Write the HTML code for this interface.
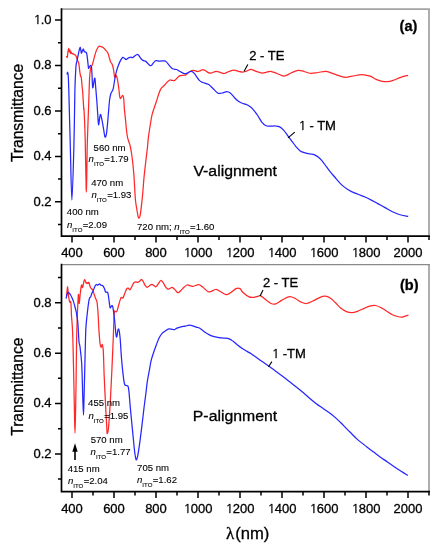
<!DOCTYPE html>
<html><head><meta charset="utf-8"><style>
html,body{margin:0;padding:0;background:#fff;width:438px;height:550px;overflow:hidden}
svg{display:block}
text{font-family:"Liberation Sans", Arial, sans-serif;fill:#000;stroke:#000;stroke-width:0.3px}
.tl{font-size:13px}
.at{font-size:15.6px}
.xt{font-size:16.6px}
.an{font-size:9.75px;stroke-width:0.1px}
.sb{font-size:6.2px}
.al{font-size:15.3px}
.lg{font-size:13px}
.pl{font-size:14.5px;font-weight:bold}
.o{font-family:NanumGothic,"Liberation Sans",sans-serif;letter-spacing:-0.05em}
</style></head><body>
<svg width="438" height="550" viewBox="0 0 438 550">
<path d="M429 9.1V236.2" fill="none" stroke="#a5a5a5" stroke-width="1.8"/>
<path d="M61.5 9.1H429.9" fill="none" stroke="#a3a3a3" stroke-width="1.8"/>
<path d="M61.5 8.2V236.2H429.9" fill="none" stroke="#000" stroke-width="1.7"/>
<path d="M72.0 236.2v6.4M114.0 236.2v6.4M156.0 236.2v6.4M198.0 236.2v6.4M240.0 236.2v6.4M282.0 236.2v6.4M324.0 236.2v6.4M366.0 236.2v6.4M408.0 236.2v6.4M93.0 236.2v3.8M135.0 236.2v3.8M177.0 236.2v3.8M219.0 236.2v3.8M261.0 236.2v3.8M303.0 236.2v3.8M345.0 236.2v3.8M387.0 236.2v3.8M429.0 236.2v3.8M61.5 201.8h-6.5M61.5 156.4h-6.5M61.5 110.9h-6.5M61.5 65.5h-6.5M61.5 20.1h-6.5M61.5 224.5h-3.5M61.5 179.1h-3.5M61.5 133.7h-3.5M61.5 88.2h-3.5M61.5 42.8h-3.5" fill="none" stroke="#000" stroke-width="1.5"/>
<text x="72.0" y="256.7" text-anchor="middle" class="tl">400</text>
<text x="114.0" y="256.7" text-anchor="middle" class="tl">600</text>
<text x="156.0" y="256.7" text-anchor="middle" class="tl">800</text>
<text x="198.0" y="256.7" text-anchor="middle" class="tl"><tspan class="o">1</tspan>000</text>
<text x="240.0" y="256.7" text-anchor="middle" class="tl"><tspan class="o">1</tspan>200</text>
<text x="282.0" y="256.7" text-anchor="middle" class="tl"><tspan class="o">1</tspan>400</text>
<text x="324.0" y="256.7" text-anchor="middle" class="tl"><tspan class="o">1</tspan>600</text>
<text x="366.0" y="256.7" text-anchor="middle" class="tl"><tspan class="o">1</tspan>800</text>
<text x="408.0" y="256.7" text-anchor="middle" class="tl">2000</text>
<text x="51.5" y="205.5" text-anchor="end" class="tl">0.2</text>
<text x="51.5" y="160.1" text-anchor="end" class="tl">0.4</text>
<text x="51.5" y="114.6" text-anchor="end" class="tl">0.6</text>
<text x="51.5" y="69.2" text-anchor="end" class="tl">0.8</text>
<text x="51.5" y="23.8" text-anchor="end" class="tl"><tspan class="o">1</tspan>.0</text>
<path d="M429 264.6V491.6" fill="none" stroke="#a5a5a5" stroke-width="1.8"/>
<path d="M61.5 264.6H429.9" fill="none" stroke="#8a8a8a" stroke-width="1.4"/>
<path d="M61.5 263.70000000000005V491.6H429.9" fill="none" stroke="#000" stroke-width="1.7"/>
<path d="M72.0 491.6v6.4M114.0 491.6v6.4M156.0 491.6v6.4M198.0 491.6v6.4M240.0 491.6v6.4M282.0 491.6v6.4M324.0 491.6v6.4M366.0 491.6v6.4M408.0 491.6v6.4M93.0 491.6v3.8M135.0 491.6v3.8M177.0 491.6v3.8M219.0 491.6v3.8M261.0 491.6v3.8M303.0 491.6v3.8M345.0 491.6v3.8M387.0 491.6v3.8M429.0 491.6v3.8M61.5 453.9h-6.5M61.5 403.5h-6.5M61.5 353.2h-6.5M61.5 302.8h-6.5M61.5 479.1h-3.5M61.5 428.7h-3.5M61.5 378.3h-3.5M61.5 328.0h-3.5M61.5 277.6h-3.5" fill="none" stroke="#000" stroke-width="1.5"/>
<text x="72.0" y="512.5" text-anchor="middle" class="tl">400</text>
<text x="114.0" y="512.5" text-anchor="middle" class="tl">600</text>
<text x="156.0" y="512.5" text-anchor="middle" class="tl">800</text>
<text x="198.0" y="512.5" text-anchor="middle" class="tl"><tspan class="o">1</tspan>000</text>
<text x="240.0" y="512.5" text-anchor="middle" class="tl"><tspan class="o">1</tspan>200</text>
<text x="282.0" y="512.5" text-anchor="middle" class="tl"><tspan class="o">1</tspan>400</text>
<text x="324.0" y="512.5" text-anchor="middle" class="tl"><tspan class="o">1</tspan>600</text>
<text x="366.0" y="512.5" text-anchor="middle" class="tl"><tspan class="o">1</tspan>800</text>
<text x="408.0" y="512.5" text-anchor="middle" class="tl">2000</text>
<text x="51.5" y="457.6" text-anchor="end" class="tl">0.2</text>
<text x="51.5" y="407.2" text-anchor="end" class="tl">0.4</text>
<text x="51.5" y="356.9" text-anchor="end" class="tl">0.6</text>
<text x="51.5" y="306.5" text-anchor="end" class="tl">0.8</text>
<text transform="translate(23.3 113.0) rotate(-90)" text-anchor="middle" class="at">Transmittance</text>
<text transform="translate(23.3 386.7) rotate(-90)" text-anchor="middle" class="at">Transmittance</text>
<text x="226.0" y="539.2" class="xt"><tspan font-family="Liberation Serif, serif" font-size="17px">&#955;</tspan><tspan dx="1.0">(nm)</tspan></text>
<path d="M66.40,56.00C66.53,56.23 66.95,58.03 67.20,57.40C67.45,56.77 67.67,53.72 67.90,52.20C68.13,50.68 68.38,48.37 68.60,48.30C68.82,48.23 68.98,51.55 69.20,51.80C69.42,52.05 69.67,49.53 69.90,49.80C70.13,50.07 70.37,53.03 70.60,53.40C70.83,53.77 71.05,51.92 71.30,52.00C71.55,52.08 71.82,53.63 72.10,53.90C72.38,54.17 72.60,53.45 73.00,53.60C73.40,53.75 74.08,54.53 74.50,54.80C74.92,55.07 75.17,54.78 75.50,55.20C75.83,55.62 76.15,56.42 76.50,57.30C76.85,58.18 77.22,59.45 77.60,60.50C77.98,61.55 78.45,61.87 78.80,63.60C79.15,65.33 79.40,68.77 79.70,70.90C80.00,73.03 80.33,75.33 80.60,76.40C80.87,77.47 81.07,75.78 81.30,77.30C81.53,78.82 81.77,83.05 82.00,85.50C82.23,87.95 82.42,88.15 82.70,92.00C82.98,95.85 83.48,105.68 83.70,108.60C83.92,111.52 83.78,105.55 84.00,109.50C84.22,113.45 84.73,123.88 85.00,132.30C85.27,140.72 85.42,151.22 85.60,160.00C85.78,168.78 85.98,179.67 86.10,185.00C86.22,190.33 86.22,192.00 86.30,192.00C86.38,192.00 86.48,190.33 86.60,185.00C86.72,179.67 86.87,167.50 87.00,160.00C87.13,152.50 87.12,149.38 87.40,140.00C87.68,130.62 88.33,114.03 88.70,103.70C89.07,93.37 89.28,83.88 89.60,78.00C89.92,72.12 90.18,70.52 90.60,68.40C91.02,66.28 91.62,66.62 92.10,65.30C92.58,63.98 93.03,62.20 93.50,60.50C93.97,58.80 94.45,56.68 94.90,55.10C95.35,53.52 95.63,52.38 96.20,51.00C96.77,49.62 97.58,47.58 98.30,46.80C99.02,46.02 99.70,46.17 100.50,46.30C101.30,46.43 102.22,46.93 103.10,47.60C103.98,48.27 105.00,49.40 105.80,50.30C106.60,51.20 107.32,51.75 107.90,53.00C108.48,54.25 108.85,56.32 109.30,57.80C109.75,59.28 110.15,60.87 110.60,61.90C111.05,62.93 111.53,62.85 112.00,64.00C112.47,65.15 112.97,66.63 113.40,68.80C113.83,70.97 114.27,75.77 114.60,77.00C114.93,78.23 115.12,76.43 115.40,76.20C115.68,75.97 115.95,75.03 116.30,75.60C116.65,76.17 117.12,77.70 117.50,79.60C117.88,81.50 118.23,84.20 118.60,87.00C118.97,89.80 119.35,94.48 119.70,96.40C120.05,98.32 120.22,98.67 120.70,98.50C121.18,98.33 122.10,95.40 122.60,95.40C123.10,95.40 123.40,96.22 123.70,98.50C124.00,100.78 124.10,105.58 124.40,109.10C124.70,112.62 125.15,116.08 125.50,119.60C125.85,123.12 126.15,127.20 126.50,130.20C126.85,133.20 127.15,135.48 127.60,137.60C128.05,139.72 128.77,141.50 129.20,142.90C129.63,144.30 129.73,143.73 130.20,146.00C130.67,148.27 131.42,152.10 132.00,156.50C132.58,160.90 133.25,167.12 133.70,172.40C134.15,177.68 134.40,183.52 134.70,188.20C135.00,192.88 135.10,196.70 135.50,200.50C135.90,204.30 136.63,208.20 137.10,211.00C137.57,213.80 137.95,216.17 138.30,217.30C138.65,218.43 138.88,218.15 139.20,217.80C139.52,217.45 139.77,217.73 140.20,215.20C140.63,212.67 141.33,206.80 141.80,202.60C142.27,198.40 142.63,194.17 143.00,190.00C143.37,185.83 143.52,182.52 144.00,177.60C144.48,172.68 145.33,165.43 145.90,160.50C146.47,155.57 147.00,151.73 147.40,148.00C147.80,144.27 147.87,141.68 148.30,138.10C148.73,134.52 149.35,130.48 150.00,126.50C150.65,122.52 151.23,118.07 152.20,114.20C153.17,110.33 154.67,106.80 155.80,103.30C156.93,99.80 158.08,95.72 159.00,93.20C159.92,90.68 160.40,89.53 161.30,88.20C162.20,86.87 163.43,86.20 164.40,85.20C165.37,84.20 166.18,83.07 167.10,82.20C168.02,81.33 169.10,80.30 169.90,80.00C170.70,79.70 171.10,80.33 171.90,80.40C172.70,80.47 173.78,80.85 174.70,80.40C175.62,79.95 176.50,78.50 177.40,77.70C178.30,76.90 179.07,76.00 180.10,75.60C181.13,75.20 182.63,75.42 183.60,75.30C184.57,75.18 185.10,75.35 185.90,74.90C186.70,74.45 187.53,73.28 188.40,72.60C189.27,71.92 190.20,71.17 191.10,70.80C192.00,70.43 192.77,70.28 193.80,70.40C194.83,70.52 196.27,71.43 197.30,71.50C198.33,71.57 199.10,71.13 200.00,70.80C200.90,70.47 201.78,69.50 202.70,69.50C203.62,69.50 204.58,70.28 205.50,70.80C206.42,71.32 207.25,72.22 208.20,72.60C209.15,72.98 209.90,73.32 211.20,73.10C212.50,72.88 214.52,71.42 216.00,71.30C217.48,71.18 218.73,72.03 220.10,72.40C221.47,72.77 222.72,73.65 224.20,73.50C225.68,73.35 227.40,72.07 229.00,71.50C230.60,70.93 232.20,70.13 233.80,70.10C235.40,70.07 237.17,70.95 238.60,71.30C240.03,71.65 241.15,72.20 242.40,72.20C243.65,72.20 244.67,71.77 246.10,71.30C247.53,70.83 249.40,69.42 251.00,69.40C252.60,69.38 253.87,70.58 255.70,71.20C257.53,71.82 260.28,72.92 262.00,73.10C263.72,73.28 264.57,72.60 266.00,72.30C267.43,72.00 268.77,71.10 270.60,71.30C272.43,71.50 274.77,72.70 277.00,73.50C279.23,74.30 281.67,76.18 284.00,76.10C286.33,76.02 288.62,73.97 291.00,73.00C293.38,72.03 296.13,70.55 298.30,70.30C300.47,70.05 301.95,71.00 304.00,71.50C306.05,72.00 308.27,73.13 310.60,73.30C312.93,73.47 315.40,72.82 318.00,72.50C320.60,72.18 323.47,71.12 326.20,71.40C328.93,71.68 331.32,73.23 334.40,74.20C337.48,75.17 341.73,76.87 344.70,77.20C347.67,77.53 349.35,76.65 352.20,76.20C355.05,75.75 358.82,74.50 361.80,74.50C364.78,74.50 367.60,75.33 370.10,76.20C372.60,77.07 374.77,78.85 376.80,79.70C378.83,80.55 380.58,80.97 382.30,81.30C384.02,81.63 385.27,81.87 387.10,81.70C388.93,81.53 391.13,80.98 393.30,80.30C395.47,79.62 397.63,78.43 400.10,77.60C402.57,76.77 406.77,75.68 408.10,75.30" fill="none" stroke="#ff2828" stroke-width="1.25" stroke-linejoin="round"/>
<path d="M67.00,74.50C67.10,74.13 67.40,72.13 67.60,72.30C67.80,72.47 68.00,72.55 68.20,75.50C68.40,78.45 68.45,78.25 68.80,90.00C69.15,101.75 69.78,127.67 70.30,146.00C70.82,164.33 71.30,200.00 71.90,200.00C72.50,200.00 73.40,164.33 73.90,146.00C74.40,127.67 74.57,103.12 74.90,90.00C75.23,76.88 75.58,72.05 75.90,67.30C76.22,62.55 76.42,63.55 76.80,61.50C77.18,59.45 77.82,56.82 78.20,55.00C78.58,53.18 78.83,51.72 79.10,50.60C79.37,49.48 79.60,48.82 79.80,48.30C80.00,47.78 80.08,46.92 80.30,47.50C80.52,48.08 80.90,50.85 81.10,51.80C81.30,52.75 81.27,53.42 81.50,53.20C81.73,52.98 82.18,51.18 82.50,50.50C82.82,49.82 83.10,48.88 83.40,49.10C83.70,49.32 84.00,51.35 84.30,51.80C84.60,52.25 84.90,51.72 85.20,51.80C85.50,51.88 85.85,52.00 86.10,52.30C86.35,52.60 86.47,52.47 86.70,53.60C86.93,54.73 87.22,56.82 87.50,59.10C87.78,61.38 88.18,65.78 88.40,67.30C88.62,68.82 88.58,68.33 88.80,68.20C89.02,68.07 89.40,66.95 89.70,66.50C90.00,66.05 90.30,65.42 90.60,65.50C90.90,65.58 91.27,65.48 91.50,67.00C91.73,68.52 91.80,71.15 92.00,74.60C92.20,78.05 92.38,86.50 92.70,87.70C93.02,88.90 93.53,83.38 93.90,81.80C94.27,80.22 94.62,77.47 94.90,78.20C95.18,78.93 95.28,82.43 95.60,86.20C95.92,89.97 96.43,95.95 96.80,100.80C97.17,105.65 97.50,111.30 97.80,115.30C98.10,119.30 98.28,124.43 98.60,124.80C98.92,125.17 99.35,119.20 99.70,117.50C100.05,115.80 100.28,114.00 100.70,114.60C101.12,115.20 101.70,118.55 102.20,121.10C102.70,123.65 103.22,127.23 103.70,129.90C104.18,132.57 104.62,136.62 105.10,137.10C105.58,137.58 106.12,135.95 106.60,132.80C107.08,129.65 107.52,123.53 108.00,118.20C108.48,112.87 109.02,104.92 109.50,100.80C109.98,96.68 110.30,95.45 110.90,93.50C111.50,91.55 112.43,91.60 113.10,89.10C113.77,86.60 114.33,81.50 114.90,78.50C115.47,75.50 115.88,73.38 116.50,71.10C117.12,68.82 117.90,66.63 118.60,64.80C119.30,62.97 120.00,61.33 120.70,60.10C121.40,58.87 122.18,57.70 122.80,57.40C123.42,57.10 123.87,57.95 124.40,58.30C124.93,58.65 125.47,59.47 126.00,59.50C126.53,59.53 127.07,58.82 127.60,58.50C128.13,58.18 128.68,57.82 129.20,57.60C129.72,57.38 130.10,57.20 130.70,57.20C131.30,57.20 132.08,57.83 132.80,57.60C133.52,57.37 134.28,56.32 135.00,55.80C135.72,55.28 136.50,54.58 137.10,54.50C137.70,54.42 138.08,54.78 138.60,55.30C139.12,55.82 139.67,56.90 140.20,57.60C140.73,58.30 141.27,59.00 141.80,59.50C142.33,60.00 142.78,60.33 143.40,60.60C144.02,60.87 144.80,60.67 145.50,61.10C146.20,61.53 146.98,62.58 147.60,63.20C148.22,63.82 148.67,64.38 149.20,64.80C149.73,65.22 150.32,65.72 150.80,65.70C151.28,65.68 151.32,65.52 152.10,64.70C152.88,63.88 154.25,61.38 155.50,60.80C156.75,60.22 158.12,61.20 159.60,61.20C161.08,61.20 163.27,60.68 164.40,60.80C165.53,60.92 165.60,61.15 166.40,61.90C167.20,62.65 168.17,64.15 169.20,65.30C170.23,66.45 171.35,68.10 172.60,68.80C173.85,69.50 175.45,69.05 176.70,69.50C177.95,69.95 178.85,70.82 180.10,71.50C181.35,72.18 183.05,73.32 184.20,73.60C185.35,73.88 185.97,73.55 187.00,73.20C188.03,72.85 189.37,71.67 190.40,71.50C191.43,71.33 192.28,71.52 193.20,72.20C194.12,72.88 194.88,74.23 195.90,75.60C196.92,76.97 198.17,79.25 199.30,80.40C200.43,81.55 201.55,81.97 202.70,82.50C203.85,83.03 205.13,83.23 206.20,83.60C207.27,83.97 207.93,83.83 209.10,84.70C210.27,85.57 211.72,87.38 213.20,88.80C214.68,90.22 216.52,92.50 218.00,93.20C219.48,93.90 220.62,93.27 222.10,93.00C223.58,92.73 225.53,91.60 226.90,91.60C228.27,91.60 229.03,91.98 230.30,93.00C231.57,94.02 233.02,96.23 234.50,97.70C235.98,99.17 237.72,100.82 239.20,101.80C240.68,102.78 242.02,103.07 243.40,103.60C244.78,104.13 246.25,104.38 247.50,105.00C248.75,105.62 249.77,106.33 250.90,107.30C252.03,108.27 253.17,109.43 254.30,110.80C255.43,112.17 256.45,113.62 257.70,115.50C258.95,117.38 260.42,120.38 261.80,122.10C263.18,123.82 264.62,125.12 266.00,125.80C267.38,126.48 268.52,126.17 270.10,126.20C271.68,126.23 273.90,125.88 275.50,126.00C277.10,126.12 278.32,126.18 279.70,126.90C281.08,127.62 282.43,128.82 283.80,130.30C285.17,131.78 286.53,133.97 287.90,135.80C289.27,137.63 290.63,139.47 292.00,141.30C293.37,143.13 294.73,145.20 296.10,146.80C297.47,148.40 298.72,149.88 300.20,150.90C301.68,151.92 303.40,152.38 305.00,152.90C306.60,153.42 308.28,153.72 309.80,154.00C311.32,154.28 312.70,154.08 314.10,154.60C315.50,155.12 316.83,156.00 318.20,157.10C319.57,158.20 320.93,159.60 322.30,161.20C323.67,162.80 325.03,164.87 326.40,166.70C327.77,168.53 329.12,170.48 330.50,172.20C331.88,173.92 333.32,175.40 334.70,177.00C336.08,178.60 337.43,180.32 338.80,181.80C340.17,183.28 341.53,184.70 342.90,185.90C344.27,187.10 345.63,188.08 347.00,189.00C348.37,189.92 349.50,190.62 351.10,191.40C352.70,192.18 354.77,192.95 356.60,193.70C358.43,194.45 360.70,195.35 362.10,195.90C363.50,196.45 363.38,196.25 365.00,197.00C366.62,197.75 369.52,199.22 371.80,200.40C374.08,201.58 376.42,202.85 378.70,204.10C380.98,205.35 383.22,206.62 385.50,207.90C387.78,209.18 390.12,210.70 392.40,211.80C394.68,212.90 396.57,213.73 399.20,214.50C401.83,215.27 406.70,216.08 408.20,216.40" fill="none" stroke="#2626ff" stroke-width="1.25" stroke-linejoin="round"/>
<path d="M66.50,295.90C66.58,295.15 66.83,292.92 67.00,291.40C67.17,289.88 67.35,287.12 67.50,286.80C67.65,286.48 67.73,287.98 67.90,289.50C68.07,291.02 68.27,294.07 68.50,295.90C68.73,297.73 69.05,299.43 69.30,300.50C69.55,301.57 69.78,302.15 70.00,302.30C70.22,302.45 70.42,300.80 70.60,301.40C70.78,302.00 70.95,303.48 71.10,305.90C71.25,308.32 71.32,312.72 71.50,315.90C71.68,319.08 71.97,320.98 72.20,325.00C72.43,329.02 72.63,330.83 72.90,340.00C73.17,349.17 73.53,367.50 73.80,380.00C74.07,392.50 74.30,406.17 74.50,415.00C74.70,423.83 74.83,433.00 75.00,433.00C75.17,433.00 75.32,423.83 75.50,415.00C75.68,406.17 75.92,392.50 76.10,380.00C76.28,367.50 76.45,349.17 76.60,340.00C76.75,330.83 76.85,329.77 77.00,325.00C77.15,320.23 77.35,315.18 77.50,311.40C77.65,307.62 77.75,305.12 77.90,302.30C78.05,299.48 78.25,295.12 78.40,294.50C78.55,293.88 78.65,297.15 78.80,298.60C78.95,300.05 79.07,303.95 79.30,303.20C79.53,302.45 79.90,296.83 80.20,294.10C80.50,291.37 80.83,288.32 81.10,286.80C81.37,285.28 81.57,284.85 81.80,285.00C82.03,285.15 82.23,287.85 82.50,287.70C82.77,287.55 83.10,285.38 83.40,284.10C83.70,282.82 84.00,280.60 84.30,280.00C84.60,279.40 84.90,279.97 85.20,280.50C85.50,281.03 85.80,282.83 86.10,283.20C86.40,283.57 86.70,282.63 87.00,282.70C87.30,282.77 87.60,283.67 87.90,283.60C88.20,283.53 88.50,282.07 88.80,282.30C89.10,282.53 89.38,284.05 89.70,285.00C90.02,285.95 90.18,287.17 90.70,288.00C91.22,288.83 92.23,288.98 92.80,290.00C93.37,291.02 93.65,292.73 94.10,294.10C94.55,295.47 95.03,296.95 95.50,298.20C95.97,299.45 96.57,300.23 96.90,301.60C97.23,302.97 97.28,304.02 97.50,306.40C97.72,308.78 97.97,312.03 98.20,315.90C98.43,319.77 98.60,325.05 98.90,329.60C99.20,334.15 99.65,340.25 100.00,343.20C100.35,346.15 100.73,346.85 101.00,347.30C101.27,347.75 101.38,346.35 101.60,345.90C101.82,345.45 102.02,343.77 102.30,344.60C102.58,345.43 102.98,345.60 103.30,350.90C103.62,356.20 103.83,367.62 104.20,376.40C104.57,385.18 105.05,394.67 105.50,403.60C105.95,412.53 106.60,425.03 106.90,430.00C107.20,434.97 107.05,433.57 107.30,433.40C107.55,433.23 107.92,433.97 108.40,429.00C108.88,424.03 109.60,413.88 110.20,403.60C110.80,393.32 111.50,377.97 112.00,367.30C112.50,356.63 112.83,348.62 113.20,339.60C113.57,330.58 113.85,317.83 114.20,313.20C114.55,308.57 114.85,312.13 115.30,311.80C115.75,311.47 116.33,312.33 116.90,311.20C117.47,310.07 118.07,307.17 118.70,305.00C119.33,302.83 120.22,299.48 120.70,298.20C121.18,296.92 121.22,297.33 121.60,297.30C121.98,297.27 122.47,298.68 123.00,298.00C123.53,297.32 124.17,294.75 124.80,293.20C125.43,291.65 126.23,289.53 126.80,288.70C127.37,287.87 127.68,288.02 128.20,288.20C128.72,288.38 129.33,289.98 129.90,289.80C130.47,289.62 130.97,288.23 131.60,287.10C132.23,285.97 133.00,283.87 133.70,283.00C134.40,282.13 135.12,282.02 135.80,281.90C136.48,281.78 137.12,282.47 137.80,282.30C138.48,282.13 139.27,281.37 139.90,280.90C140.53,280.43 141.03,279.38 141.60,279.50C142.17,279.62 142.68,280.57 143.30,281.60C143.92,282.63 144.62,284.75 145.30,285.70C145.98,286.65 146.70,287.30 147.40,287.30C148.10,287.30 148.77,286.20 149.50,285.70C150.23,285.20 151.02,284.30 151.80,284.30C152.58,284.30 153.52,285.28 154.20,285.70C154.88,286.12 155.20,287.15 155.90,286.80C156.60,286.45 157.58,284.65 158.40,283.60C159.22,282.55 160.00,280.65 160.80,280.50C161.60,280.35 162.47,281.72 163.20,282.70C163.93,283.68 164.45,285.33 165.20,286.40C165.95,287.47 166.90,288.77 167.70,289.10C168.50,289.43 169.27,288.70 170.00,288.40C170.73,288.10 171.35,287.18 172.10,287.30C172.85,287.42 173.72,288.33 174.50,289.10C175.28,289.87 176.10,291.33 176.80,291.90C177.50,292.47 177.80,292.97 178.70,292.50C179.60,292.03 180.82,290.35 182.20,289.10C183.58,287.85 185.30,285.45 187.00,285.00C188.70,284.55 190.47,286.47 192.40,286.40C194.33,286.33 196.88,284.48 198.60,284.60C200.32,284.72 200.98,285.88 202.70,287.10C204.42,288.32 206.73,291.50 208.90,291.90C211.07,292.30 213.88,289.62 215.70,289.50C217.52,289.38 218.08,290.35 219.80,291.20C221.52,292.05 224.17,294.38 226.00,294.60C227.83,294.82 229.13,293.50 230.80,292.50C232.47,291.50 234.47,289.25 236.00,288.60C237.53,287.95 238.83,287.95 240.00,288.60C241.17,289.25 241.48,291.12 243.00,292.50C244.52,293.88 247.28,296.10 249.10,296.90C250.92,297.70 252.30,297.42 253.90,297.30C255.50,297.18 257.60,296.48 258.70,296.20C259.80,295.92 259.37,295.05 260.50,295.60C261.63,296.15 263.75,298.18 265.50,299.50C267.25,300.82 269.28,302.77 271.00,303.50C272.72,304.23 273.98,304.47 275.80,303.90C277.62,303.33 279.62,301.32 281.90,300.10C284.18,298.88 287.22,296.83 289.50,296.60C291.78,296.37 293.67,297.78 295.60,298.70C297.53,299.62 299.27,301.30 301.10,302.10C302.93,302.90 304.55,303.72 306.60,303.50C308.65,303.28 311.17,301.83 313.40,300.80C315.63,299.77 318.02,298.07 320.00,297.30C321.98,296.53 323.62,296.08 325.30,296.20C326.98,296.32 328.40,296.90 330.10,298.00C331.80,299.10 333.68,301.08 335.50,302.80C337.32,304.52 339.17,306.82 341.00,308.30C342.83,309.78 344.67,310.97 346.50,311.70C348.33,312.43 350.17,312.77 352.00,312.70C353.83,312.63 355.45,312.03 357.50,311.30C359.55,310.57 362.25,309.15 364.30,308.30C366.35,307.45 367.93,306.67 369.80,306.20C371.67,305.73 373.63,305.27 375.50,305.50C377.37,305.73 379.18,306.68 381.00,307.60C382.82,308.52 384.58,309.85 386.40,311.00C388.22,312.15 390.07,313.58 391.90,314.50C393.73,315.42 395.80,316.05 397.40,316.50C399.00,316.95 400.25,317.25 401.50,317.20C402.75,317.15 403.75,316.55 404.90,316.20C406.05,315.85 407.82,315.28 408.40,315.10" fill="none" stroke="#ff2828" stroke-width="1.25" stroke-linejoin="round"/>
<path d="M66.10,298.60C66.25,297.92 66.70,295.55 67.00,294.50C67.30,293.45 67.52,292.52 67.90,292.30C68.28,292.08 68.85,292.75 69.30,293.20C69.75,293.65 70.15,294.25 70.60,295.00C71.05,295.75 71.53,296.63 72.00,297.70C72.47,298.77 72.95,300.03 73.40,301.40C73.85,302.77 74.25,304.23 74.70,305.90C75.15,307.57 75.72,309.58 76.10,311.40C76.48,313.22 76.70,314.83 77.00,316.80C77.30,318.77 77.57,319.03 77.90,323.20C78.23,327.37 78.67,337.97 79.00,341.80C79.33,345.63 79.45,342.55 79.90,346.20C80.35,349.85 81.23,355.57 81.70,363.70C82.17,371.83 82.40,386.45 82.70,395.00C83.00,403.55 83.27,415.00 83.50,415.00C83.73,415.00 83.87,403.55 84.10,395.00C84.33,386.45 84.65,373.70 84.90,363.70C85.15,353.70 85.40,341.45 85.60,335.00C85.80,328.55 85.78,328.93 86.10,325.00C86.42,321.07 87.05,315.33 87.50,311.40C87.95,307.47 88.43,303.68 88.80,301.40C89.17,299.12 89.38,298.47 89.70,297.70C90.02,296.93 90.30,297.63 90.70,296.80C91.10,295.97 91.63,293.83 92.10,292.70C92.57,291.57 93.05,291.02 93.50,290.00C93.95,288.98 94.35,287.52 94.80,286.60C95.25,285.68 95.70,284.73 96.20,284.50C96.70,284.27 97.23,285.30 97.80,285.20C98.37,285.10 99.07,283.90 99.60,283.90C100.13,283.90 100.43,284.87 101.00,285.20C101.57,285.53 102.43,285.33 103.00,285.90C103.57,286.47 103.95,287.57 104.40,288.60C104.85,289.63 105.13,291.42 105.70,292.10C106.27,292.78 107.23,291.23 107.80,292.70C108.37,294.17 108.72,298.40 109.10,300.90C109.48,303.40 109.75,306.78 110.10,307.70C110.45,308.62 110.83,306.73 111.20,306.40C111.57,306.07 111.97,305.25 112.30,305.70C112.63,306.15 112.82,306.72 113.20,309.10C113.58,311.48 114.13,315.68 114.60,320.00C115.07,324.32 115.62,332.27 116.00,335.00C116.38,337.73 116.57,337.30 116.90,336.40C117.23,335.50 117.63,330.62 118.00,329.60C118.37,328.58 118.75,328.93 119.10,330.30C119.45,331.67 119.70,333.15 120.10,337.80C120.50,342.45 120.97,351.77 121.50,358.20C122.03,364.63 122.77,372.02 123.30,376.40C123.83,380.78 124.17,382.98 124.70,384.50C125.23,386.02 125.92,385.12 126.50,385.50C127.08,385.88 127.77,385.53 128.20,386.80C128.63,388.07 128.77,389.87 129.10,393.10C129.43,396.33 129.78,401.55 130.20,406.20C130.62,410.85 131.10,415.80 131.60,421.00C132.10,426.20 132.72,432.48 133.20,437.40C133.68,442.32 134.08,447.00 134.50,450.50C134.92,454.00 135.35,456.88 135.70,458.40C136.05,459.92 136.25,460.10 136.60,459.60C136.95,459.10 137.27,458.28 137.80,455.40C138.33,452.52 139.12,447.22 139.80,442.30C140.48,437.38 141.20,431.63 141.90,425.90C142.60,420.17 143.32,413.50 144.00,407.90C144.68,402.30 145.45,396.68 146.00,392.30C146.55,387.92 146.75,385.20 147.30,381.60C147.85,378.00 148.68,374.12 149.30,370.70C149.92,367.28 150.27,364.18 151.00,361.10C151.73,358.02 152.80,354.93 153.70,352.20C154.60,349.47 155.48,347.10 156.40,344.70C157.32,342.30 158.28,339.63 159.20,337.80C160.12,335.97 160.88,334.83 161.90,333.70C162.92,332.57 164.15,331.80 165.30,331.00C166.45,330.20 167.65,329.18 168.80,328.90C169.95,328.62 171.30,329.18 172.20,329.30C173.10,329.42 173.40,329.78 174.20,329.60C175.00,329.42 175.85,328.67 177.00,328.20C178.15,327.73 179.73,327.13 181.10,326.80C182.47,326.47 183.83,326.47 185.20,326.20C186.57,325.93 188.05,325.27 189.30,325.20C190.55,325.13 191.55,325.48 192.70,325.80C193.85,326.12 195.02,326.68 196.20,327.10C197.38,327.52 198.40,327.50 199.80,328.30C201.20,329.10 203.00,330.80 204.60,331.90C206.20,333.00 207.80,334.10 209.40,334.90C211.00,335.70 212.60,336.23 214.20,336.70C215.80,337.17 217.40,337.47 219.00,337.70C220.60,337.93 222.10,337.92 223.80,338.10C225.50,338.28 227.60,338.23 229.20,338.80C230.80,339.37 232.02,340.48 233.40,341.50C234.78,342.52 236.02,343.75 237.50,344.90C238.98,346.05 240.70,347.32 242.30,348.40C243.90,349.48 245.62,350.50 247.10,351.40C248.58,352.30 249.58,352.73 251.20,353.80C252.82,354.87 254.72,356.33 256.80,357.80C258.88,359.27 261.63,361.15 263.70,362.60C265.77,364.05 267.15,365.03 269.20,366.50C271.25,367.97 273.72,369.73 276.00,371.40C278.28,373.07 280.62,374.77 282.90,376.50C285.18,378.23 287.42,380.00 289.70,381.80C291.98,383.60 294.32,385.48 296.60,387.30C298.88,389.12 301.08,390.75 303.40,392.70C305.72,394.65 308.40,397.20 310.50,399.00C312.60,400.80 313.95,401.95 316.00,403.50C318.05,405.05 320.52,406.70 322.80,408.30C325.08,409.90 327.42,411.38 329.70,413.10C331.98,414.82 334.22,416.55 336.50,418.60C338.78,420.65 341.12,423.12 343.40,425.40C345.68,427.68 347.92,430.02 350.20,432.30C352.48,434.58 354.33,436.67 357.10,439.10C359.87,441.53 364.03,444.73 366.80,446.90C369.57,449.07 371.42,450.38 373.70,452.10C375.98,453.82 378.22,455.55 380.50,457.20C382.78,458.85 385.12,460.40 387.40,462.00C389.68,463.60 391.92,465.25 394.20,466.80C396.48,468.35 398.82,469.87 401.10,471.30C403.38,472.73 406.77,474.72 407.90,475.40" fill="none" stroke="#2626ff" stroke-width="1.25" stroke-linejoin="round"/>
<text transform="translate(93.6 151.2) scale(0.985 1)" class="an">560 nm</text>
<text transform="translate(88.6 162.4) scale(0.985 1)" class="an"><tspan font-style="italic">n</tspan><tspan class="sb" dy="4.0">ITO</tspan><tspan dy="-4.0" dx="0.4">=1.79</tspan></text>
<text transform="translate(91.2 186.1) scale(0.985 1)" class="an">470 nm</text>
<text transform="translate(91.4 198.4) scale(0.985 1)" class="an"><tspan font-style="italic">n</tspan><tspan class="sb" dy="4.0">ITO</tspan><tspan dy="-4.0" dx="0.4">=1.93</tspan></text>
<text transform="translate(66.8 215.2) scale(0.985 1)" class="an">400 nm</text>
<text transform="translate(67.0 227.5) scale(0.985 1)" class="an"><tspan font-style="italic">n</tspan><tspan class="sb" dy="4.0">ITO</tspan><tspan dy="-4.0" dx="0.4">=2.09</tspan></text>
<text transform="translate(137.0 230) scale(0.985 1)" class="an">720 nm; <tspan font-style="italic">n</tspan><tspan class="sb" dy="4.0">ITO</tspan><tspan dy="-4.0" dx="0.4">=1.60</tspan></text>
<text transform="translate(193.4 176.2) scale(1.035 1)" class="al">V-alignment</text>
<text x="249.2" y="60.2" class="lg">2 - TE</text>
<text x="298.6" y="129.7" class="lg"><tspan class="o">1</tspan> - TM</text>
<path d="M244 71.5L247.8 64.6M288 137.8L294.8 132.1" stroke="#000" stroke-width="1.1" fill="none"/>
<text x="399.6" y="31.0" class="pl">(a)</text>
<text transform="translate(88.1 406.2) scale(0.985 1)" class="an">455 nm</text>
<text transform="translate(88.4 418.7) scale(0.985 1)" class="an"><tspan font-style="italic">n</tspan><tspan class="sb" dy="4.0">ITO</tspan><tspan dy="-4.0" dx="0.4">=1.95</tspan></text>
<text transform="translate(90.7 443.1) scale(0.985 1)" class="an">570 nm</text>
<text transform="translate(90.6 454.7) scale(0.985 1)" class="an"><tspan font-style="italic">n</tspan><tspan class="sb" dy="4.0">ITO</tspan><tspan dy="-4.0" dx="0.4">=1.77</tspan></text>
<text transform="translate(67.7 472) scale(0.985 1)" class="an">415 nm</text>
<text transform="translate(67.9 483.9) scale(0.985 1)" class="an"><tspan font-style="italic">n</tspan><tspan class="sb" dy="4.0">ITO</tspan><tspan dy="-4.0" dx="0.4">=2.04</tspan></text>
<text transform="translate(137.1 471) scale(0.985 1)" class="an">705 nm</text>
<text transform="translate(137.0 483) scale(0.985 1)" class="an"><tspan font-style="italic">n</tspan><tspan class="sb" dy="4.0">ITO</tspan><tspan dy="-4.0" dx="0.4">=1.62</tspan></text>
<text transform="translate(192.8 421.3) scale(1.035 1)" class="al">P-alignment</text>
<text x="263.0" y="286.6" class="lg">2 - TE</text>
<text x="271.8" y="357.8" class="lg"><tspan class="o">1</tspan> -TM</text>
<path d="M260.1 296L263 290M268.5 366.7L271.9 361.6" stroke="#000" stroke-width="1.1" fill="none"/>
<path d="M75 451V460" stroke="#000" stroke-width="1.6"/><path d="M75 443.2L77.7 451.8H72.3Z" fill="#000"/>
<text x="400.0" y="290.0" class="pl">(b)</text>

</svg>
</body></html>
